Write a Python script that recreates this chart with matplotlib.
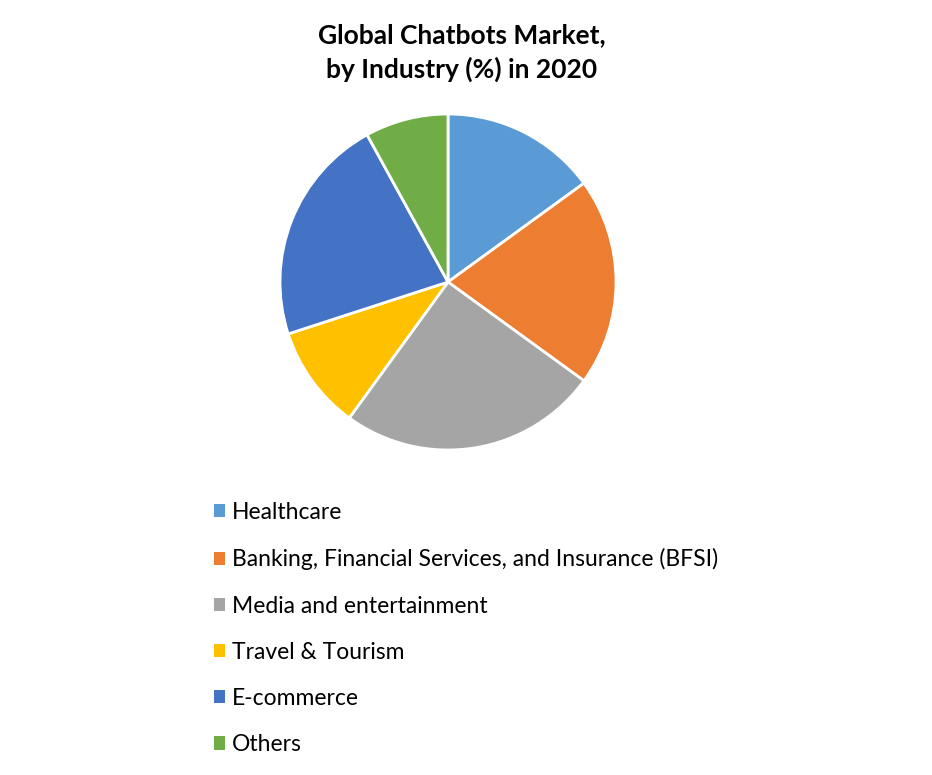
import matplotlib.pyplot as plt
from matplotlib.patches import Patch

plt.rcParams['font.family'] = ['Lato', 'DejaVu Sans']

labels = ['Healthcare', 'Banking, Financial Services, and Insurance (BFSI)',
          'Media and entertainment', 'Travel & Tourism', 'E-commerce', 'Others']
shares = [15, 20, 25, 10, 22, 8]
colors = ['#5B9BD5', '#ED7D31', '#A5A5A5', '#FFC000', '#4472C4', '#70AD47']

fig = plt.figure(figsize=(9.32, 7.75), dpi=100)

# pie: centre ~(448, 282) px, radius ~168 px
ax = fig.add_axes([(448 - 168) / 932, 1 - (282 + 168) / 775, 336 / 932, 336 / 775])
ax.pie(shares, colors=colors, startangle=90, counterclock=False,
       wedgeprops=dict(edgecolor='white', linewidth=2))
ax.set_xlim(-1.0, 1.0)
ax.set_ylim(-1.0, 1.0)
ax.set_aspect('equal')

fig.text(462 / 932, 1 - 52.5 / 775, 'Global Chatbots Market,\nby Industry (%) in 2020',
         ha='center', va='center', fontsize=19, fontweight='bold', linespacing=1.48)

handles = [Patch(facecolor=c, edgecolor='none') for c in colors]
fig.legend(handles, labels, loc='upper left', bbox_to_anchor=(214 / 932, 1 - 502 / 775),
           frameon=False, fontsize=16.5, handlelength=0.5, handleheight=0.5,
           handletextpad=0.3, labelspacing=1.1, borderpad=0, borderaxespad=0)

fig.savefig('out.png', dpi=100)
